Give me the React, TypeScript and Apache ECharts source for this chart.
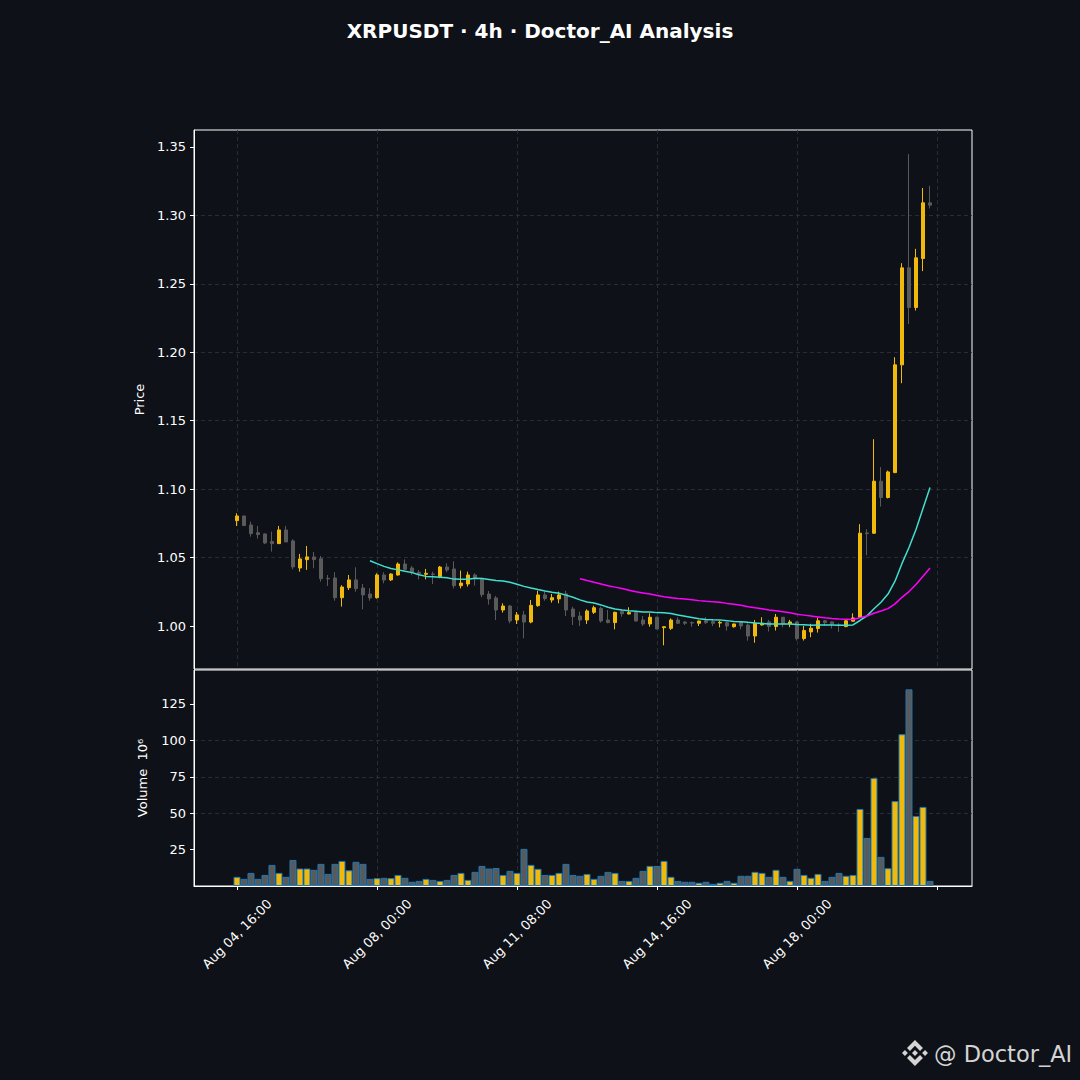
import React, { useEffect, useRef } from "react";
import * as echarts from "echarts";

// ---- Data (XRPUSDT 4h candles, index 0 = Aug 04 16:00) ----
const opens = [
  1.0770, 1.0804, 1.0738, 1.0682, 1.0673, 1.0617, 1.0602, 1.0702, 1.0622, 1.0424,
  1.0485, 1.0505, 1.0492, 1.0348, 1.0351, 1.0207, 1.0280, 1.0337, 1.0278, 1.0234,
  1.0207, 1.0373, 1.0337, 1.0373, 1.0453, 1.0424, 1.0392, 1.0378, 1.0380, 1.0361,
  1.0431, 1.0417, 1.0295, 1.0307, 1.0373, 1.0341, 1.0234, 1.0205, 1.0117, 1.0146,
  1.0044, 1.0081, 1.0029, 1.0149, 1.0227, 1.0190, 1.0198, 1.0235, 1.0124, 1.0073,
  1.0044, 1.0100, 1.0129, 1.0044, 1.0025, 1.0105, 1.0088, 1.0098, 1.0044, 1.0015,
  1.0064, 0.9988, 0.9983, 1.0044, 1.0029, 1.0025, 1.0020, 1.0039, 1.0032, 1.0022,
  1.0025, 0.9995, 1.0025, 1.0007, 0.9927, 1.0008, 1.0030, 0.9996, 1.0064, 1.0016,
  1.0030, 0.9908, 0.9957, 0.9982, 1.0038, 1.0030, 1.0008, 0.9996, 1.0035, 1.0064,
  1.0680, 1.0678, 1.1058, 1.0939, 1.1121, 1.1908, 1.2617, 1.2327, 1.2685, 1.3092,
];
const closes = [
  1.0804, 1.0734, 1.0675, 1.0668, 1.0607, 1.0602, 1.0702, 1.0614, 1.0432, 1.0490,
  1.0505, 1.0485, 1.0346, 1.0345, 1.0207, 1.0285, 1.0337, 1.0273, 1.0227, 1.0205,
  1.0373, 1.0336, 1.0380, 1.0453, 1.0414, 1.0392, 1.0383, 1.0385, 1.0377, 1.0431,
  1.0409, 1.0295, 1.0314, 1.0373, 1.0353, 1.0229, 1.0198, 1.0117, 1.0146, 1.0037,
  1.0081, 1.0029, 1.0151, 1.0227, 1.0200, 1.0207, 1.0227, 1.0117, 1.0068, 1.0044,
  1.0110, 1.0134, 1.0037, 1.0025, 1.0100, 1.0090, 1.0098, 1.0037, 1.0015, 1.0064,
  0.9978, 0.9995, 1.0044, 1.0020, 1.0020, 1.0022, 1.0037, 1.0025, 1.0020, 1.0027,
  1.0000, 1.0015, 1.0000, 0.9927, 1.0022, 1.0020, 0.9996, 1.0064, 1.0016, 1.0030,
  0.9908, 0.9967, 0.9984, 1.0038, 1.0025, 1.0016, 1.0005, 1.0038, 1.0059, 1.0678,
  1.0675, 1.1058, 1.0939, 1.1126, 1.1908, 1.2617, 1.2327, 1.2690, 1.3092, 1.3075,
];
const lows = [
  1.0731, 1.0734, 1.0653, 1.0639, 1.0600, 1.0544, 1.0602, 1.0614, 1.0414, 1.0397,
  1.0410, 1.0422, 1.0324, 1.0293, 1.0185, 1.0142, 1.0263, 1.0251, 1.0122, 1.0185,
  1.0200, 1.0312, 1.0329, 1.0368, 1.0409, 1.0373, 1.0341, 1.0341, 1.0307, 1.0349,
  1.0392, 1.0275, 1.0275, 1.0288, 1.0295, 1.0210, 1.0156, 1.0044, 1.0098, 1.0020,
  1.0015, 0.9910, 1.0020, 1.0141, 1.0185, 1.0171, 1.0166, 1.0073, 1.0007, 1.0000,
  1.0015, 1.0088, 1.0025, 1.0020, 0.9976, 1.0068, 1.0085, 1.0032, 1.0000, 0.9995,
  0.9978, 0.9859, 0.9971, 1.0015, 1.0007, 0.9995, 1.0000, 1.0015, 1.0000, 0.9990,
  0.9966, 0.9988, 0.9976, 0.9893, 0.9878, 1.0003, 0.9960, 0.9967, 0.9991, 0.9991,
  0.9894, 0.9894, 0.9918, 0.9952, 1.0001, 0.9982, 0.9957, 0.9991, 1.0035, 1.0064,
  1.0517, 1.0673, 1.0873, 1.0932, 1.1117, 1.1774, 1.2206, 1.2305, 1.2593, 1.3051,
];
const highs = [
  1.0824, 1.0806, 1.0763, 1.0731, 1.0677, 1.0690, 1.0731, 1.0731, 1.0634, 1.0527,
  1.0585, 1.0541, 1.0512, 1.0373, 1.0393, 1.0298, 1.0373, 1.0429, 1.0307, 1.0276,
  1.0385, 1.0393, 1.0385, 1.0465, 1.0487, 1.0439, 1.0409, 1.0417, 1.0397, 1.0439,
  1.0458, 1.0473, 1.0405, 1.0397, 1.0385, 1.0353, 1.0256, 1.0220, 1.0166, 1.0154,
  1.0102, 1.0110, 1.0190, 1.0258, 1.0251, 1.0234, 1.0251, 1.0258, 1.0141, 1.0105,
  1.0122, 1.0149, 1.0141, 1.0117, 1.0105, 1.0117, 1.0137, 1.0105, 1.0073, 1.0093,
  1.0068, 0.9998, 1.0056, 1.0064, 1.0037, 1.0032, 1.0039, 1.0064, 1.0049, 1.0037,
  1.0029, 1.0017, 1.0032, 1.0020, 1.0044, 1.0064, 1.0045, 1.0088, 1.0066, 1.0045,
  1.0035, 1.0001, 1.0016, 1.0060, 1.0045, 1.0035, 1.0021, 1.0045, 1.0093, 1.0744,
  1.0708, 1.1365, 1.1161, 1.1136, 1.1964, 1.2651, 1.3448, 1.2756, 1.3200, 1.3216,
];
// Volume in millions
const volumes = [
  6.3, 4.9, 9.0, 4.9, 7.6, 14.5, 9.0, 6.3, 17.9, 12.0,
  12.0, 11.1, 15.2, 8.3, 15.2, 17.2, 10.8, 16.6, 15.2, 4.9,
  5.4, 5.6, 5.4, 7.6, 5.6, 2.9, 3.5, 4.9, 4.2, 3.5,
  4.2, 7.6, 9.0, 4.2, 9.7, 13.8, 12.0, 12.4, 7.6, 10.4,
  9.0, 25.5, 14.5, 11.8, 7.6, 7.6, 9.0, 15.2, 7.6, 7.0,
  8.3, 4.9, 7.0, 9.7, 9.0, 3.5, 3.5, 5.6, 10.4, 13.8,
  13.8, 17.2, 6.3, 3.5, 2.9, 2.9, 2.2, 2.9, 1.5, 2.2,
  3.5, 2.2, 7.0, 7.0, 9.7, 9.0, 6.3, 11.1, 6.3, 3.5,
  11.8, 7.6, 5.6, 8.3, 3.5, 6.3, 9.0, 7.0, 7.6, 52.9,
  33.0, 74.1, 20.0, 12.2, 58.3, 104.2, 135.0, 48.1, 54.3, 3.5,
];
const maPeriods = [20, 50];
const tickIndex = [0, 20, 40, 60, 80, 100];
const tickLabels = ["Aug 04, 16:00", "Aug 08, 00:00", "Aug 11, 08:00", "Aug 14, 16:00", "Aug 18, 00:00", ""];
const priceTicks = [1.0, 1.05, 1.1, 1.15, 1.2, 1.25, 1.3, 1.35];
const volumeTicks = [25, 50, 75, 100, 125];

const LOGO_D =
  "M38.73 53.2 L63.3 28.64 L87.88 53.22 L102.18 38.92 L63.3 0 L24.43 38.91 Z " +
  "M0 63.31 L14.3 49.01 L28.6 63.31 L14.3 77.61 Z " +
  "M38.73 73.41 L63.3 97.97 L87.88 73.39 L102.18 87.69 L63.3 126.61 L24.43 87.7 Z " +
  "M98.01 63.31 L112.31 49.01 L126.61 63.31 L112.31 77.61 Z " +
  "M77.83 63.3 L63.3 48.76 L48.77 63.28 L63.3 77.83 Z";

let logoRegistered = false;
function registerLogo() {
  if (logoRegistered) return;
  echarts.graphic.registerShape("binanceLogo", echarts.graphic.extendPath(LOGO_D, {}));
  logoRegistered = true;
}

const YELLOW = "#f0b90b";
const GRAY = "#5a5a5a";
const BG = "#0e1117";
const FONT = "DejaVu Sans";

function movingAverage(period: number) {
  const out: [number, number][] = [];
  for (let i = period - 1; i < closes.length; i++) {
    let s = 0;
    for (let j = i - period + 1; j <= i; j++) s += closes[j];
    out.push([i, s / period]);
  }
  return out;
}

export default function App() {
  const ref = useRef<HTMLDivElement>(null);
  useEffect(() => {
    if (!ref.current) return;
    registerLogo();
    const chart = echarts.init(ref.current, undefined, { renderer: "svg" });
    const X_MIN = -6.14;
    const X_MAX = 105;
    const gridLine = {
      show: true,
      showMinLine: false,
      showMaxLine: false,
      lineStyle: { color: "#30343c", type: [4, 3], width: 0.8 },
    };
    const white = "#ffffff";
    const option: any = {
      animation: false,
      backgroundColor: BG,
      textStyle: { fontFamily: FONT },
      title: {
        text: "XRPUSDT · 4h · Doctor_AI Analysis",
        left: "center",
        top: 21,
        padding: 0,
        textStyle: { color: white, fontSize: 20, fontWeight: "bold", fontFamily: FONT },
      },
      grid: [
        { left: 194, top: 130, width: 778, height: 539, show: true, borderColor: white, borderWidth: 1, backgroundColor: "transparent" },
        { left: 194, top: 670, width: 778, height: 216, show: true, borderColor: white, borderWidth: 1, backgroundColor: "transparent" },
      ],
      xAxis: [
        {
          type: "value", gridIndex: 0, min: X_MIN, max: X_MAX, splitNumber: 5,
          axisLine: { show: false, onZero: false }, axisTick: { show: false }, axisLabel: { show: false },
          splitLine: gridLine,
        },
        {
          type: "value", gridIndex: 1, min: X_MIN, max: X_MAX, splitNumber: 5,
          axisLine: { show: true, onZero: false, lineStyle: { color: white } },
          axisTick: { show: true, length: 4, customValues: tickIndex, lineStyle: { color: white } },
          axisLabel: {
            customValues: tickIndex,
            formatter: (v: number) => {
              const k = tickIndex.indexOf(Math.round(v));
              return k >= 0 ? tickLabels[k] : "";
            },
            rotate: 45, align: "center", verticalAlign: "middle", margin: 48,
            color: white, fontSize: 13, fontFamily: FONT,
          },
          splitLine: gridLine,
        },
      ],
      yAxis: [
        {
          type: "value", gridIndex: 0, min: 0.9686, max: 1.3624, splitNumber: 8,
          name: "Price", nameLocation: "middle", nameGap: 45,
          nameTextStyle: { color: white, fontSize: 13, fontFamily: FONT },
          axisLine: { show: true, onZero: false, lineStyle: { color: white } },
          axisTick: { show: true, length: 4, customValues: priceTicks, lineStyle: { color: white } },
          axisLabel: {
            customValues: priceTicks,
            formatter: (v: number) => v.toFixed(2),
            color: white, fontSize: 13, margin: 8, fontFamily: FONT,
          },
          splitLine: gridLine,
        },
        {
          type: "value", gridIndex: 1, min: 0, max: 148.3, interval: 25,
          name: "Volume  10⁶", nameLocation: "middle", nameGap: 45,
          nameTextStyle: { color: white, fontSize: 13, fontFamily: FONT },
          axisLine: { show: true, onZero: false, lineStyle: { color: white } },
          axisTick: { show: true, length: 4, customValues: volumeTicks, lineStyle: { color: white } },
          axisLabel: {
            customValues: volumeTicks,
            formatter: (v: number) => String(v),
            color: white, fontSize: 13, margin: 8, fontFamily: FONT,
          },
          splitLine: gridLine,
        },
      ],
      series: [
        {
          type: "candlestick",
          xAxisIndex: 0, yAxisIndex: 0,
          barWidth: 4,
          data: opens.map((o, i) => [i, o, closes[i], lows[i], highs[i]]),
          itemStyle: { color: YELLOW, color0: GRAY, borderColor: YELLOW, borderColor0: GRAY, borderWidth: 1 },
        },
        {
          type: "line", xAxisIndex: 0, yAxisIndex: 0, symbol: "none",
          data: movingAverage(maPeriods[0]),
          lineStyle: { color: "#40e0d0", width: 1.5 },
        },
        {
          type: "line", xAxisIndex: 0, yAxisIndex: 0, symbol: "none",
          data: movingAverage(maPeriods[1]),
          lineStyle: { color: "#ff00ff", width: 1.5 },
        },
        {
          type: "bar", xAxisIndex: 1, yAxisIndex: 1, barWidth: 7,
          data: volumes.map((v, i) => ({
            value: [i, v],
            itemStyle: { color: closes[i] > opens[i] ? YELLOW : GRAY },
          })),
          itemStyle: { borderColor: "#1f77b4", borderWidth: 1 },
        },
      ],
      graphic: [
        {
          type: "binanceLogo",
          x: 902, y: 1040, scaleX: 0.205, scaleY: 0.205,
          style: { fill: "#d4d4d4" },
          z: 100,
        },
        {
          type: "text",
          x: 934, y: 1054,
          style: {
            text: "@ Doctor_AI",
            fill: "#d4d4d4",
            font: `22.5px '${FONT}'`,
            textVerticalAlign: "middle",
            verticalAlign: "middle",
          },
          z: 100,
        },
      ],
    };
    chart.setOption(option);
    return () => chart.dispose();
  }, []);
  return <div ref={ref} style={{ position: "absolute", left: 0, top: 0, width: 1080, height: 1080 }} />;
}
